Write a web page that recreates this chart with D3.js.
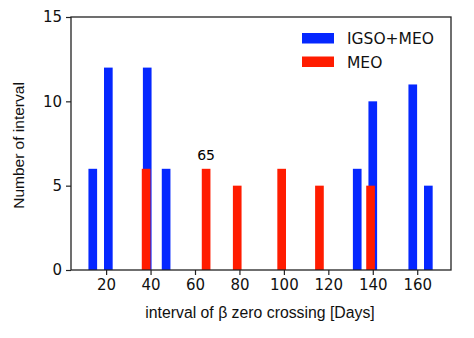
<!DOCTYPE html>
<html>
<head>
<meta charset="utf-8">
<script src="https://cdn.jsdelivr.net/npm/d3@7"></script>
<style>
  body { margin: 0; background: #fff; }
  svg { display: block; }
</style>
</head>
<body>
<svg></svg>
<script>
// interval lengths (days) and how many times each occurs
var igsoDays = [14, 21, 38.5, 47, 133, 140, 158, 165]
var igsoCount = [6, 12, 12, 6, 6, 10, 11, 5]
var meoDays = [38, 65, 79, 99, 116, 139]
var meoCount = [6, 6, 5, 6, 5, 5]

var xTicks = [20, 40, 60, 80, 100, 120, 140, 160]
var yTicks = [0, 5, 10, 15]
var seriesNames = ['IGSO+MEO', 'MEO']
var markedDay = 65

var svgWidth = 474, svgHeight = 338
var margin = { top: 17, right: 23, bottom: 68, left: 71 }
var width = svgWidth - margin.left - margin.right
var height = svgHeight - margin.top - margin.bottom
var barDays = 3.9

var blue = '#0527ff', red = '#ff1c00'
var tickFont = '"DejaVu Sans", sans-serif'
var labelFont = '"Liberation Sans", Arial, sans-serif'

var svg = d3.select('svg')
    .attr('width', svgWidth)
    .attr('height', svgHeight)

var g = svg.append('g')
    .attr('transform', 'translate(' + margin.left + ',' + margin.top + ')')

var x = d3.scaleLinear().domain([4.2, 175.2]).range([0, width])
var y = d3.scaleLinear().domain([0, 15]).range([height, 0])

function toRows(days, counts) {
    return days.map(function (d, i) { return { day: d, count: counts[i] } })
}

function drawBars(rows, color) {
    g.append('g').selectAll('rect')
        .data(rows)
        .enter().append('rect')
        .attr('x', function (d) { return x(d.day - barDays / 2) })
        .attr('width', function (d) { return x(d.day + barDays / 2) - x(d.day - barDays / 2) })
        .attr('y', function (d) { return y(d.count) })
        .attr('height', function (d) { return height - y(d.count) })
        .attr('fill', color)
}

drawBars(toRows(igsoDays, igsoCount), blue)
drawBars(toRows(meoDays, meoCount), red)

// value label over the MEO bar at 65 days
var marked = meoCount[meoDays.indexOf(markedDay)]
g.append('text')
    .attr('x', x(markedDay))
    .attr('y', y(marked) - 9)
    .attr('text-anchor', 'middle')
    .attr('font-family', tickFont)
    .attr('font-size', 14)
    .text(markedDay)

// axes
var xAxis = g.append('g')
    .attr('transform', 'translate(0,' + height + ')')
    .call(d3.axisBottom(x).tickValues(xTicks).tickSize(5).tickPadding(4))
var yAxis = g.append('g')
    .call(d3.axisLeft(y).tickValues(yTicks).tickSize(5).tickPadding(4))

;[xAxis, yAxis].forEach(function (a) {
    a.select('.domain').remove()
    a.selectAll('line').attr('stroke', '#222').attr('stroke-width', 1.2)
    a.selectAll('text')
        .attr('font-family', tickFont)
        .attr('font-size', 15)
        .attr('fill', '#111')
})

// frame around the plot
g.append('rect')
    .attr('width', width)
    .attr('height', height)
    .attr('fill', 'none')
    .attr('stroke', '#222')
    .attr('stroke-width', 1.3)

// axis titles
svg.append('text')
    .attr('x', margin.left + width / 2 - 1)
    .attr('y', 318)
    .attr('text-anchor', 'middle')
    .attr('font-family', labelFont)
    .attr('font-size', 15.8)
    .attr('fill', '#111')
    .text('interval of β zero crossing [Days]')

svg.append('text')
    .attr('transform', 'translate(24,' + (margin.top + height / 2 + 2) + ') rotate(-90)')
    .attr('text-anchor', 'middle')
    .attr('font-family', labelFont)
    .attr('font-size', 15.5)
    .attr('fill', '#111')
    .text('Number of interval')

// legend
var legend = svg.append('g').attr('transform', 'translate(302,33)')
var legendItems = legend.selectAll('g')
    .data(seriesNames)
    .enter().append('g')
    .attr('transform', function (d, i) { return 'translate(0,' + i * 23.5 + ')' })
legendItems.append('rect')
    .attr('width', 32)
    .attr('height', 10.5)
    .attr('fill', function (d, i) { return i === 0 ? blue : red })
legendItems.append('text')
    .attr('x', 45)
    .attr('y', 11)
    .attr('font-family', tickFont)
    .attr('font-size', 15.5)
    .attr('fill', '#111')
    .text(function (d) { return d })
</script>
</body>
</html>
